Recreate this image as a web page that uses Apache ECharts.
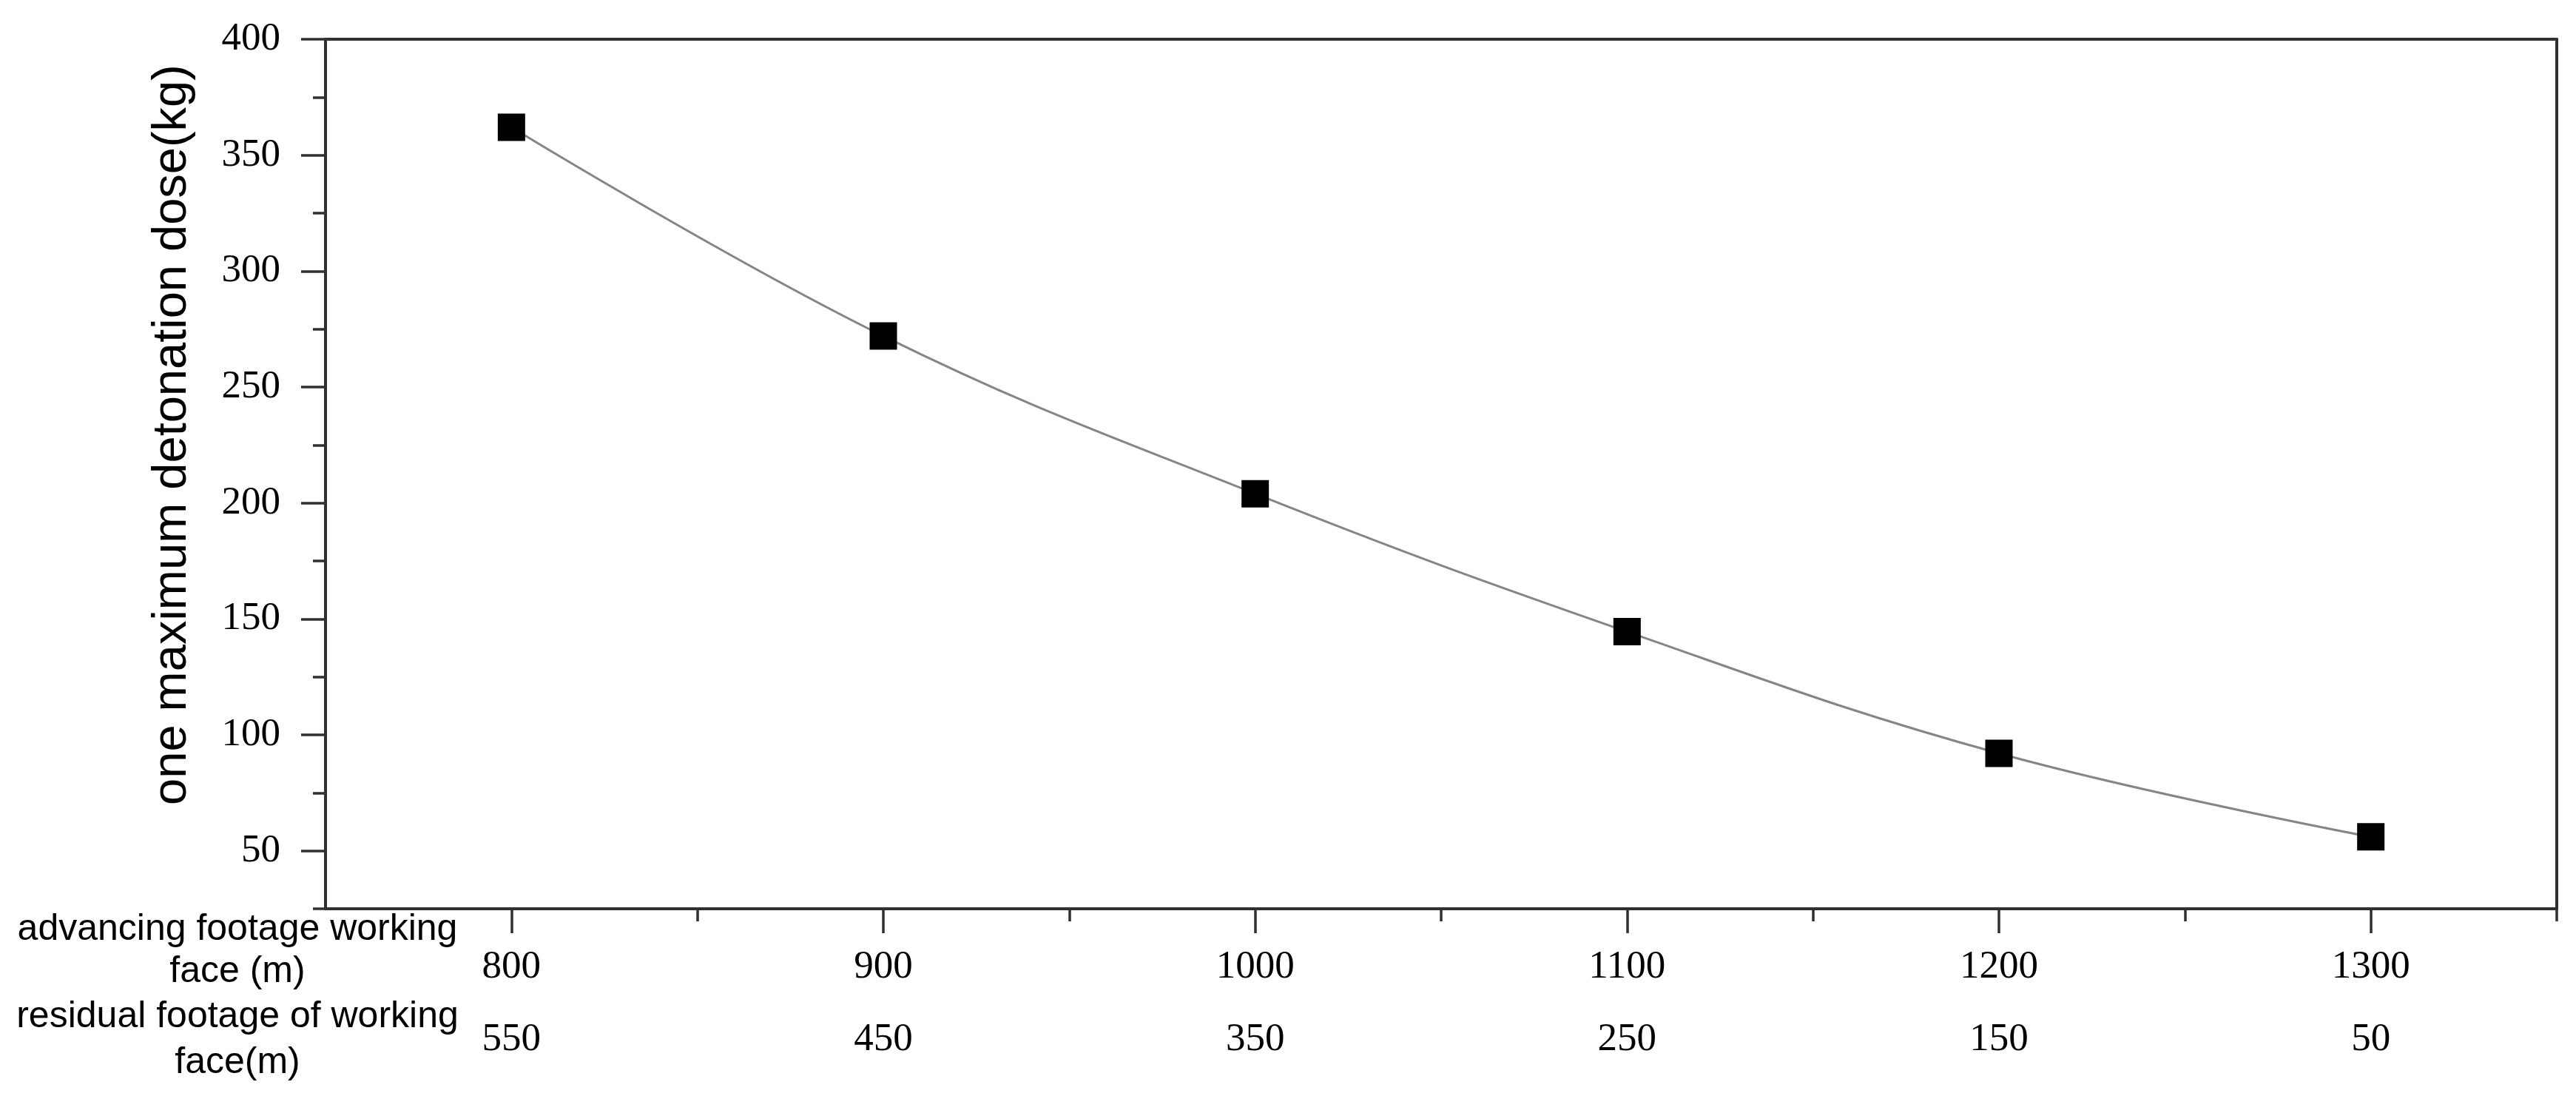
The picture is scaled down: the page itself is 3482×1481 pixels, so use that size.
<!DOCTYPE html>
<html>
<head>
<meta charset="utf-8">
<script src="https://cdn.jsdelivr.net/npm/echarts@6/dist/echarts.min.js"></script>
<style>
html,body{margin:0;padding:0;background:#fff;}
#chart{width:3482px;height:1481px;}
</style>
</head>
<body>
<div id="chart"></div>
<script>
// ---- data ----
var advancing = [800, 900, 1000, 1100, 1200, 1300];      // advancing footage (m)
var residual  = [550, 450, 350, 250, 150, 50];           // residual footage (m)
var dose      = [362, 272, 204, 144.5, 92, 56];          // one maximum detonation dose (kg)
var yMajorTicks = [50, 100, 150, 200, 250, 300, 350, 400];
var yMinorTicks = [25, 75, 125, 175, 225, 275, 325, 375];
var xMinorTicks = [850, 950, 1050, 1150, 1250, 1350];

var xTitle1 = 'advancing footage working\nface (m)';
var xTitle2 = 'residual footage of working\nface(m)';
var yTitle  = 'one maximum detonation dose(kg)';

var axisColor = '#303030';
var serif = '"Liberation Serif","Times New Roman",serif';
var sans  = '"Liberation Sans",Arial,sans-serif';
var plain = function (v) { return String(v); };

var chart = echarts.init(document.getElementById('chart'), null, {renderer: 'canvas'});

var option = {
  backgroundColor: '#ffffff',
  animation: false,
  grid: {left: 440, right: 26, top: 53, bottom: 253, containLabel: false, outerBoundsMode: 'none'},
  xAxis: [
    { // primary: advancing footage
      type: 'value', position: 'bottom', min: 750, max: 1350,
      axisLine: {show: true, onZero: false, lineStyle: {color: axisColor, width: 4}},
      axisTick: {show: true, inside: false, length: 33, customValues: advancing, lineStyle: {color: axisColor, width: 3.5}},
      axisLabel: {show: true, margin: 53, customValues: advancing, formatter: plain, color: '#000', fontFamily: serif, fontSize: 53},
      splitLine: {show: false},
      name: xTitle1, nameLocation: 'start', nameGap: 119, nameMoveOverlap: false,
      nameTextStyle: {fontFamily: sans, fontSize: 50, lineHeight: 57, color: '#000', align: 'center', verticalAlign: 'top'}
    },
    { // residual footage row
      type: 'value', position: 'bottom', offset: 115, min: 0, max: 600, inverse: true,
      axisLine: {show: false, onZero: false},
      axisTick: {show: false},
      axisLabel: {show: true, margin: 36, customValues: residual, formatter: plain, color: '#000', fontFamily: serif, fontSize: 53},
      splitLine: {show: false},
      name: xTitle2, nameLocation: 'end', nameGap: 119, nameMoveOverlap: false,
      nameTextStyle: {fontFamily: sans, fontSize: 50, lineHeight: 62, color: '#000', align: 'center', verticalAlign: 'top'}
    },
    { // top border
      type: 'value', position: 'top', min: 750, max: 1350,
      axisLine: {show: true, onZero: false, lineStyle: {color: axisColor, width: 4}},
      axisTick: {show: false}, axisLabel: {show: false}, splitLine: {show: false}
    },
    { // minor ticks
      type: 'value', position: 'bottom', min: 750, max: 1350,
      axisLine: {show: false, onZero: false},
      axisTick: {show: true, length: 17, customValues: xMinorTicks, lineStyle: {color: axisColor, width: 3.5}},
      axisLabel: {show: false}, splitLine: {show: false}
    }
  ],
  yAxis: [
    {
      type: 'value', position: 'left', min: 25, max: 400,
      axisLine: {show: true, onZero: false, lineStyle: {color: axisColor, width: 4}},
      axisTick: {show: true, length: 33, customValues: yMajorTicks, lineStyle: {color: axisColor, width: 3.5}},
      axisLabel: {show: true, margin: 61, customValues: yMajorTicks, formatter: plain, color: '#000', fontFamily: serif, fontSize: 53},
      splitLine: {show: false},
      name: '{t|' + yTitle + '}', nameLocation: 'middle', nameGap: 207, nameRotate: 90, nameMoveOverlap: false,
      nameTextStyle: {
        align: 'center', verticalAlign: 'middle',
        rich: {t: {fontFamily: sans, fontSize: 65, color: '#000', padding: [0, 0, 0, 106]}}
      }
    },
    { // right border
      type: 'value', position: 'right', min: 25, max: 400,
      axisLine: {show: true, onZero: false, lineStyle: {color: axisColor, width: 4}},
      axisTick: {show: false}, axisLabel: {show: false}, splitLine: {show: false}
    },
    { // minor ticks
      type: 'value', position: 'left', min: 25, max: 400,
      axisLine: {show: false, onZero: false},
      axisTick: {show: true, length: 17, customValues: yMinorTicks, lineStyle: {color: axisColor, width: 3.5}},
      axisLabel: {show: false}, splitLine: {show: false}
    }
  ],
  series: [
    {
      type: 'line',
      xAxisIndex: 0, yAxisIndex: 0,
      data: advancing.map(function (x, i) { return [x, dose[i]]; }),
      smooth: 0.4,
      lineStyle: {color: '#858585', width: 3},
      symbol: 'rect', symbolSize: 37,
      itemStyle: {color: '#000000'},
      showAllSymbol: true,
      clip: false
    }
  ]
};
chart.setOption(option);
</script>
</body>
</html>
